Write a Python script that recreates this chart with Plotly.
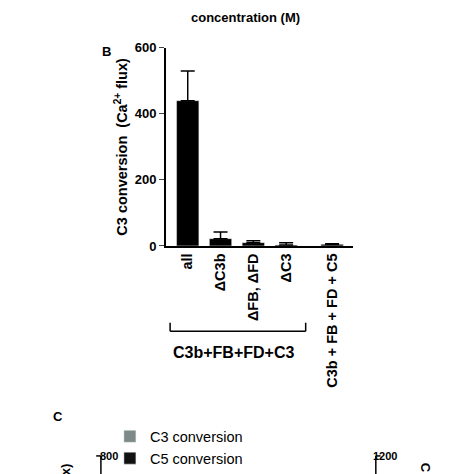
import plotly.graph_objects as go

labels = ["all", "ΔC3b", "ΔFB, ΔFD", "ΔC3", "C3b + FB + FD + C5"]
positions = [1, 2, 3, 4, 5.4]
values = [440, 22, 10, 3, 5]
errors = [90, 20, 6, 7, 2]
yticks = [0, 200, 400, 600]

F = "Liberation Sans, Arial, sans-serif"
fig = go.Figure()
fig.add_bar(x=positions, y=values, width=0.68, marker_color="black", showlegend=False,
            error_y=dict(type="data", array=errors, symmetric=False, color="black",
                         thickness=1.5, width=7))
fig.add_bar(x=[None], y=[None], name="C3 conversion", marker_color="#7d8a87")
fig.add_bar(x=[None], y=[None], name="C5 conversion", marker_color="#111111")

fig.update_layout(
    width=474, height=474, margin=dict(l=0, r=0, t=0, b=0, autoexpand=False),
    paper_bgcolor="white", plot_bgcolor="white", showlegend=True,
    font=dict(family=F, color="black"),
    legend=dict(x=0.215, y=0.13, xanchor="left", yanchor="top", font=dict(size=14.5),
                bgcolor="rgba(0,0,0,0)", tracegroupgap=0),
    xaxis=dict(domain=[0.333, 0.728], range=[0.333, 6.04], tickmode="array", automargin=False,
               tickvals=positions, ticktext=labels, tickangle=-90, showline=True,
               linecolor="black", linewidth=1.5, ticks="", showgrid=False, zeroline=False,
               tickfont=dict(size=14.5, family=F, weight="bold")),
    yaxis=dict(domain=[0.498, 0.916], range=[0, 600], tickvals=yticks, showline=True, automargin=False,
               linecolor="black", linewidth=1.5, ticks="outside", ticklen=5, showgrid=False,
               zeroline=False, tickfont=dict(size=13, family=F, weight="bold"),
               title=dict(text="<b>C3 conversion  (Ca<sup>2+</sup> flux)</b>", font=dict(size=14.5), standoff=4)),
)

ann = [
    dict(x=0.5, y=1.0, text="<b>concentration (M)</b>", size=13),
    dict(x=0.195, y=0.928, text="<b>B</b>", size=13),
    dict(x=0.475, y=0.295, text="<b>C3b+FB+FD+C3</b>", size=16),
    dict(x=0.09, y=0.158, text="<b>C</b>", size=13),
    dict(x=0.19, y=0.072, text="<b>800</b>", size=11),
    dict(x=0.825, y=0.072, text="<b>1200</b>", size=11),
]
for a in ann:
    fig.add_annotation(xref="paper", yref="paper", x=a["x"], y=a["y"], text=a["text"], yanchor="top",
                       showarrow=False, font=dict(size=a["size"], family=F))
fig.add_annotation(xref="paper", yref="paper", x=0.1, y=0.01, text="<b>x)</b>", textangle=-90,
                   showarrow=False, font=dict(size=13, family=F))
fig.add_annotation(xref="paper", yref="paper", x=0.9, y=0.015, text="<b>C</b>", textangle=90,
                   showarrow=False, font=dict(size=13, family=F))
bx0, bx1, by, bt = 0.342, 0.628, 0.318, 0.336
for x0, y0, x1, y1 in [(bx0, by, bx1, by), (bx0, by, bx0, bt), (bx1, by, bx1, bt),
                       (0.196, 0.055, 0.196, -0.01), (0.776, 0.055, 0.776, -0.01),
                       (0.196, 0.055, 0.186, 0.055), (0.776, 0.055, 0.786, 0.055)]:
    fig.add_shape(type="line", xref="paper", yref="paper", x0=x0, y0=y0, x1=x1, y1=y1,
                  line=dict(color="black", width=1.5))
fig.write_html("out.html")
